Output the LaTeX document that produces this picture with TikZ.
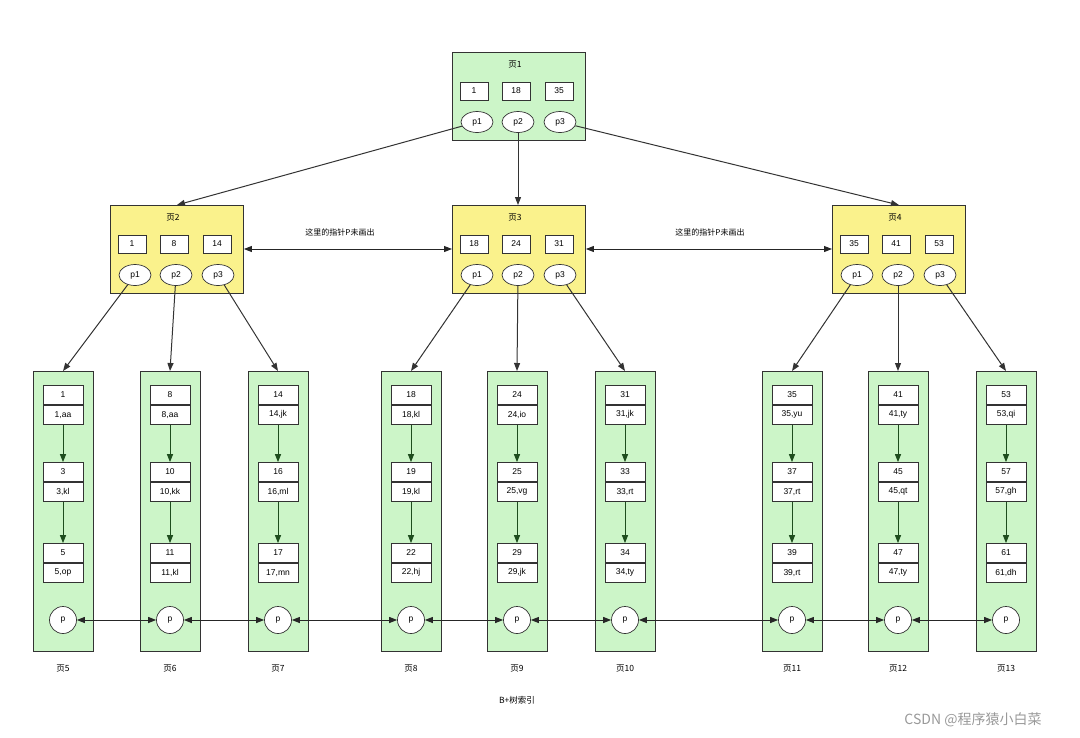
\documentclass[tikz,border=0pt]{standalone}
\usepackage{fontspec}
\setmainfont{Liberation Sans}
\newfontfamily\cjk{Noto Sans CJK SC}
\usetikzlibrary{arrows.meta,shapes.geometric}
\definecolor{lg}{HTML}{CCF5C8}
\definecolor{yl}{HTML}{FAF28C}
\definecolor{dg}{HTML}{1E4D1E}
\begin{document}
\begin{tikzpicture}[x=1pt,y=-1pt,font=\fontsize{8.5}{10}\selectfont,
 page/.style={draw=black!80,line width=0.9pt,minimum width=133pt,minimum height=88pt,anchor=north west},
 leaf/.style={draw=black!80,fill=lg,line width=0.9pt,minimum width=60pt,minimum height=280pt,anchor=north},
 key/.style={draw=black!80,fill=white,line width=0.7pt,minimum width=28pt,minimum height=18pt,inner sep=1pt},
 ptr/.style={draw=black!80,fill=white,ellipse,line width=0.7pt,minimum width=32pt,minimum height=21pt,inner sep=0pt},
 cell/.style={draw=black!80,fill=white,line width=0.7pt,minimum width=40pt,minimum height=19pt,inner sep=1pt},
 pp/.style={draw=black!80,fill=white,circle,line width=0.7pt,minimum size=27pt,inner sep=0pt},
 arr/.style={-{Triangle[length=8pt,width=6pt]},line width=1pt,draw=black!80},
 darr/.style={{Triangle[length=8pt,width=6pt]}-{Triangle[length=8pt,width=6pt]},line width=1pt,draw=black!85},
 garr/.style={-{Triangle[length=8pt,width=6pt]},line width=1pt,draw=dg}]
\useasboundingbox (0,0) rectangle (1080,737);
\foreach \n/\x/\y/\c/\a/\b/\d in {1/452/52/lg/1/18/35, 2/110/205/yl/1/8/14, 3/452/205/yl/18/24/31, 4/832/205/yl/35/41/53}{
 \node[page,fill=\c] (P\n) at (\x,\y) {};
 \node[font=\cjk\fontsize{8.5}{10}\selectfont] (T\n) at (\x+63,\y+13) {页\n};
 \node[key] (K\n a) at (\x+22,\y+39) {\a};
 \node[key] (K\n b) at (\x+64,\y+39) {\b};
 \node[key] (K\n c) at (\x+107,\y+39) {\d};
 \node[ptr] (E\n a) at (\x+25,\y+70) {p1};
 \node[ptr] (E\n b) at (\x+66,\y+70) {p2};
 \node[ptr] (E\n c) at (\x+108,\y+70) {p3};
}
\draw[arr] (E1a) -- (P2.north);
\draw[arr] (E1b) -- (P3.north -| E1b);
\draw[arr] (E1c) -- (P4.north);
\coordinate (L23a) at (243,249); \coordinate (L23b) at (452,249);
\coordinate (L34a) at (585,249); \coordinate (L34b) at (832,249);
\draw[darr] (P2.east |- L23a) -- (P3.west |- L23b);
\draw[darr] (P3.east |- L34a) -- (P4.west |- L34b);
\node[font=\cjk\fontsize{8}{9}\selectfont] (N1) at (340,232) {这里的指针P未画出};
\node[font=\cjk\fontsize{8}{9}\selectfont] (N2) at (710,232) {这里的指针P未画出};
\foreach \i/\x/\ka/\va/\kb/\vb/\kc/\vc in {
5/63/1/{1,aa}/3/{3,kl}/5/{5,op},
6/170/8/{8,aa}/10/{10,kk}/11/{11,kl},
7/278/14/{14,jk}/16/{16,ml}/17/{17,mn},
8/411/18/{18,kl}/19/{19,kl}/22/{22,hj},
9/517/24/{24,io}/25/{25,vg}/29/{29,jk},
10/625/31/{31,jk}/33/{33,rt}/34/{34,ty},
11/792/35/{35,yu}/37/{37,rt}/39/{39,rt},
12/898/41/{41,ty}/45/{45,qt}/47/{47,ty},
13/1006/53/{53,qi}/57/{57,gh}/61/{61,dh}}{
 \node[leaf] (L\i) at (\x,371) {};
 \node[cell] (A\i) at (\x,395) {\ka};
 \node[cell,anchor=north] (a\i) at (A\i.south) {\va};
 \node[cell] (B\i) at (\x,472) {\kb};
 \node[cell,anchor=north] (b\i) at (B\i.south) {\vb};
 \node[cell] (C\i) at (\x,553) {\kc};
 \node[cell,anchor=north] (c\i) at (C\i.south) {\vc};
 \draw[garr] (a\i) -- (B\i);
 \draw[garr] (b\i) -- (C\i);
 \node[pp] (Q\i) at (\x,620) {p};
 \node[font=\cjk\fontsize{8.5}{10}\selectfont] (G\i) at (\x,669) {页\i};
}
\foreach \a/\b in {5/6,6/7,7/8,8/9,9/10,10/11,11/12,12/13}{\draw[darr] (Q\a) -- (Q\b);}
\draw[arr] (E2a) -- (L5.north);
\draw[arr] (E2b) -- (L6.north);
\draw[arr] (E2c) -- (L7.north);
\draw[arr] (E3a) -- (L8.north);
\draw[arr] (E3b) -- (L9.north);
\draw[arr] (E3c) -- (L10.north);
\draw[arr] (E4a) -- (L11.north);
\draw[arr] (E4b) -- (L12.north);
\draw[arr] (E4c) -- (L13.north);
\node[font=\cjk\fontsize{8.5}{10}\selectfont] (cap) at (517,700) {B+树索引};
\node[font=\cjk\fontsize{14}{16}\selectfont,text=black!40] (wm) at (973,720) {CSDN @程序猿小白菜};
\end{tikzpicture}
\end{document}
